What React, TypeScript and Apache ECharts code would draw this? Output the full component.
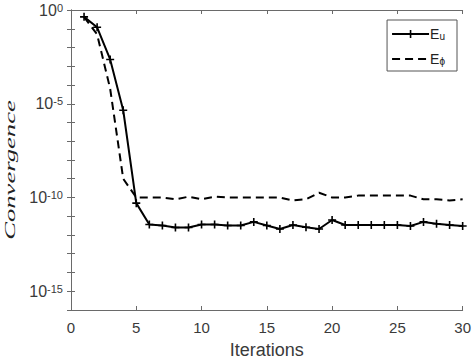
import React, { useEffect, useRef } from 'react';
import * as echarts from 'echarts';

const iterations = [1, 2, 3, 4, 5, 6, 7, 8, 9, 10, 11, 12, 13, 14, 15, 16, 17, 18, 19, 20, 21, 22, 23, 24, 25, 26, 27, 28, 29, 30];
const errU = [
  4.3e-1, 1.2e-1, 2.3e-3, 4.5e-6, 5.0e-11, 3.6e-12, 3.2e-12, 2.5e-12, 2.5e-12, 3.6e-12,
  3.6e-12, 3.2e-12, 3.2e-12, 5.0e-12, 3.2e-12, 2.1e-12, 3.4e-12, 2.6e-12, 2.1e-12, 6.3e-12,
  3.4e-12, 3.4e-12, 3.4e-12, 3.4e-12, 3.4e-12, 3.0e-12, 5.0e-12, 4.0e-12, 3.4e-12, 3.0e-12,
];
const errPhi = [
  4.3e-1, 5.0e-2, 6.3e-5, 1.0e-9, 1.0e-10, 1.0e-10, 1.0e-10, 8.0e-11, 1.1e-10, 8.0e-11,
  1.1e-10, 1.0e-10, 1.0e-10, 1.0e-10, 1.0e-10, 1.0e-10, 7.0e-11, 8.0e-11, 1.8e-10, 1.0e-10,
  1.0e-10, 1.26e-10, 1.26e-10, 1.26e-10, 1.26e-10, 1.26e-10, 8.0e-11, 8.0e-11, 7.0e-11, 8.0e-11,
];
const seriesNames = ['Eu', 'Ephi'];
const legendSubs = ['u', 'ϕ'];
const xLabel = 'Iterations';
const yLabel = 'Convergence';

export default function App() {
  const ref = useRef<HTMLDivElement>(null);
  useEffect(() => {
    const chart = echarts.init(ref.current as HTMLDivElement, null, { renderer: 'svg' });
    const axisColor = '#6a6a6a';
    const labelColor = '#3a3a3a';
    const font = '"Liberation Sans", Arial, Helvetica, sans-serif';
    const plus = 'path://M4,0H6V4H10V6H6V10H4V6H0V4H4Z';
    const yFmt = (v: number) => {
      const e = Math.round(Math.log10(v));
      return e % 5 === 0 ? `{b|10}{s|${e === 0 ? 0 : e}}` : '';
    };
    const yAxisBase = {
      type: 'log',
      logBase: 10,
      min: 1e-16,
      max: 1,
      interval: 1,
      splitNumber: 16,
      splitLine: { show: false },
      minorTick: { show: false },
      axisLine: { show: true, lineStyle: { color: axisColor, width: 1 } },
      axisTick: { show: true, inside: true, length: 4, lineStyle: { color: axisColor } },
    };
    const xAxisBase = {
      type: 'value',
      min: 0,
      max: 30,
      interval: 5,
      splitLine: { show: false },
      axisLine: { show: true, onZero: false, lineStyle: { color: axisColor, width: 1 } },
      axisTick: { show: true, inside: true, length: 4, lineStyle: { color: axisColor } },
    };
    chart.setOption({
      animation: false,
      grid: { left: 71, right: 11, top: 10, bottom: 52, containLabel: false },
      xAxis: [
        {
          ...xAxisBase,
          position: 'bottom',
          name: xLabel,
          nameLocation: 'middle',
          nameGap: 31,
          nameTextStyle: { fontFamily: font, fontSize: 18, color: labelColor },
          axisLabel: { fontFamily: font, fontSize: 15, color: labelColor, margin: 10 },
        },
        { ...xAxisBase, position: 'top', axisLabel: { show: false } },
      ],
      yAxis: [
        {
          ...yAxisBase,
          position: 'left',
          axisLabel: {
            formatter: yFmt,
            margin: 8,
            fontFamily: font,
            fontSize: 15,
            color: labelColor,
            rich: {
              b: { fontFamily: font, fontSize: 16, lineHeight: 16, verticalAlign: 'bottom', color: labelColor },
              s: { fontFamily: font, fontSize: 11, lineHeight: 12, padding: [0, 0, 10, 0], verticalAlign: 'top', color: labelColor },
            },
          },
        },
        { ...yAxisBase, position: 'right', axisLabel: { show: false } },
      ],
      legend: {
        orient: 'vertical',
        right: 17,
        top: 20,
        padding: [3, 12, 5, 4],
        itemGap: 7,
        itemWidth: 37,
        itemHeight: 10,
        borderColor: '#555',
        borderWidth: 1,
        backgroundColor: '#fff',
        data: seriesNames.map((n, i) => i === 1 ? { name: n, itemStyle: { opacity: 0 } } : { name: n }),
        formatter: (name: string) => `{b|E}{s|${legendSubs[seriesNames.indexOf(name)]}}`,
        textStyle: {
          padding: [0, 0, 0, -4],
          rich: {
            b: { fontFamily: font, fontSize: 14, lineHeight: 14, verticalAlign: 'top', color: '#222' },
            s: { fontFamily: font, fontSize: 10, lineHeight: 12, padding: [8, 0, 0, 0], verticalAlign: 'bottom', color: '#222' },
          },
        },
      },
      graphic: [
        {
          type: 'text',
          x: 10,
          y: 170,
          rotation: Math.PI / 2,
          scaleX: 1.78,
          style: {
            text: yLabel,
            font: 'italic 15px "Liberation Serif", "DejaVu Serif", serif',
            fill: '#222',
            textAlign: 'center',
            textVerticalAlign: 'middle',
          },
        },
      ],
      series: [
        {
          name: seriesNames[0],
          type: 'line',
          xAxisIndex: 0,
          yAxisIndex: 0,
          data: iterations.map((x, i) => [x, errU[i]]),
          symbol: plus,
          symbolSize: 8,
          showSymbol: true,
          itemStyle: { color: '#000' },
          lineStyle: { color: '#000', width: 2 },
        },
        {
          name: seriesNames[1],
          type: 'line',
          xAxisIndex: 0,
          yAxisIndex: 0,
          data: iterations.map((x, i) => [x, errPhi[i]]),
          symbol: 'none',
          showSymbol: false,
          itemStyle: { color: '#000' },
          lineStyle: { color: '#000', width: 2, type: [8, 5] },
        },
      ],
    });
    return () => chart.dispose();
  }, []);
  return <div ref={ref} style={{ position: 'absolute', left: 0, top: 0, width: 474, height: 364 }} />;
}
